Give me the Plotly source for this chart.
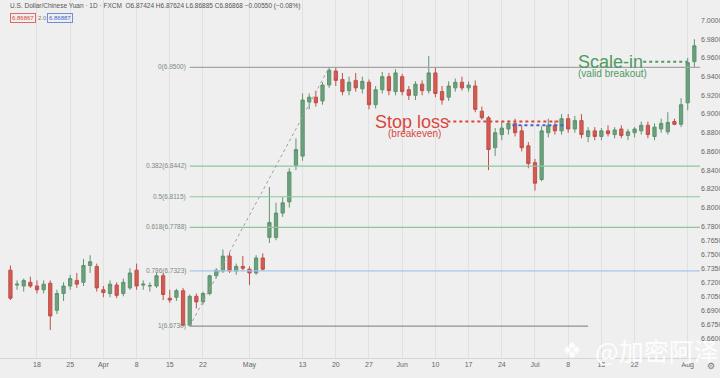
import plotly.graph_objects as go
import pandas as pd

# ---------------- data ----------------
dates = [d.strftime("%Y-%m-%d") for d in pd.bdate_range("2019-03-12", "2019-08-02")]

opens = [6.733, 6.717, 6.716, 6.720, 6.716, 6.712, 6.719, 6.690, 6.708, 6.716,
         6.722, 6.720, 6.738, 6.737, 6.712, 6.708, 6.717, 6.708, 6.714, 6.733,
         6.717, 6.716, 6.716, 6.727, 6.703, 6.704, 6.711, 6.674, 6.705, 6.699,
         6.708, 6.727, 6.732, 6.748, 6.732, 6.737, 6.734, 6.730, 6.746, 6.768,
         6.768, 6.794, 6.806, 6.845, 6.855, 6.913, 6.918, 6.914, 6.931, 6.946,
         6.937, 6.925, 6.936, 6.927, 6.934, 6.910, 6.926, 6.940, 6.924, 6.940,
         6.926, 6.920, 6.932, 6.925, 6.944, 6.924, 6.918, 6.928, 6.934, 6.928,
         6.930, 6.903, 6.896, 6.864, 6.878, 6.884, 6.890, 6.882, 6.866, 6.848,
         6.830, 6.880, 6.888, 6.882, 6.895, 6.884, 6.893, 6.876, 6.882, 6.876,
         6.882, 6.878, 6.884, 6.877, 6.880, 6.882, 6.888, 6.876, 6.884, 6.881,
         6.892, 6.889, 6.912, 6.956]
highs = [6.738, 6.722, 6.724, 6.726, 6.722, 6.722, 6.722, 6.712, 6.720, 6.728,
         6.730, 6.745, 6.749, 6.740, 6.716, 6.722, 6.720, 6.724, 6.735, 6.740,
         6.722, 6.720, 6.730, 6.730, 6.712, 6.713, 6.714, 6.707, 6.708, 6.710,
         6.728, 6.735, 6.755, 6.752, 6.740, 6.748, 6.737, 6.749, 6.751, 6.822,
         6.805, 6.811, 6.842, 6.874, 6.922, 6.922, 6.925, 6.934, 6.950, 6.950,
         6.944, 6.940, 6.944, 6.940, 6.937, 6.930, 6.945, 6.944, 6.948, 6.943,
         6.930, 6.935, 6.936, 6.962, 6.950, 6.930, 6.935, 6.938, 6.940, 6.935,
         6.936, 6.908, 6.898, 6.885, 6.892, 6.893, 6.895, 6.888, 6.870, 6.852,
         6.887, 6.895, 6.893, 6.900, 6.900, 6.898, 6.900, 6.886, 6.886, 6.885,
         6.888, 6.886, 6.888, 6.884, 6.886, 6.892, 6.892, 6.890, 6.895, 6.902,
         6.895, 6.917, 6.960, 6.980]
lows = [6.701, 6.712, 6.710, 6.714, 6.708, 6.708, 6.669, 6.686, 6.700, 6.712,
        6.714, 6.716, 6.730, 6.710, 6.704, 6.704, 6.703, 6.705, 6.712, 6.712,
        6.712, 6.710, 6.714, 6.701, 6.698, 6.700, 6.673, 6.673, 6.692, 6.696,
        6.706, 6.724, 6.730, 6.730, 6.728, 6.732, 6.717, 6.728, 6.732, 6.762,
        6.765, 6.790, 6.800, 6.840, 6.850, 6.905, 6.908, 6.910, 6.928, 6.930,
        6.920, 6.920, 6.924, 6.922, 6.905, 6.906, 6.922, 6.920, 6.920, 6.920,
        6.915, 6.915, 6.920, 6.922, 6.918, 6.910, 6.914, 6.924, 6.925, 6.924,
        6.902, 6.894, 6.840, 6.855, 6.872, 6.878, 6.876, 6.860, 6.842, 6.818,
        6.828, 6.875, 6.878, 6.878, 6.880, 6.880, 6.874, 6.870, 6.872, 6.872,
        6.876, 6.874, 6.874, 6.872, 6.875, 6.878, 6.874, 6.872, 6.880, 6.878,
        6.888, 6.886, 6.904, 6.950]
closes = [6.703, 6.718, 6.722, 6.716, 6.712, 6.718, 6.684, 6.708, 6.716, 6.724,
          6.718, 6.738, 6.742, 6.714, 6.709, 6.718, 6.706, 6.720, 6.730, 6.716,
          6.718, 6.7165, 6.727, 6.707, 6.701, 6.711, 6.674, 6.705, 6.699, 6.708,
          6.727, 6.733, 6.748, 6.732, 6.737, 6.735, 6.730, 6.746, 6.734, 6.784,
          6.794, 6.805, 6.838, 6.862, 6.915, 6.918, 6.912, 6.931, 6.947, 6.936,
          6.924, 6.934, 6.928, 6.935, 6.910, 6.926, 6.940, 6.925, 6.944, 6.924,
          6.920, 6.932, 6.925, 6.944, 6.922, 6.915, 6.930, 6.934, 6.928, 6.931,
          6.905, 6.896, 6.862, 6.880, 6.885, 6.890, 6.880, 6.864, 6.847, 6.826,
          6.882, 6.888, 6.882, 6.895, 6.884, 6.893, 6.878, 6.882, 6.876, 6.882,
          6.879, 6.883, 6.877, 6.881, 6.884, 6.888, 6.878, 6.886, 6.890, 6.891,
          6.889, 6.910, 6.955, 6.973]

tick_dates = ["2019-03-18", "2019-03-25", "2019-04-01", "2019-04-08", "2019-04-15",
              "2019-04-22", "2019-05-01", "2019-05-13", "2019-05-20", "2019-05-27",
              "2019-06-03", "2019-06-10", "2019-06-17", "2019-06-24", "2019-07-01",
              "2019-07-08", "2019-07-15", "2019-07-22", "2019-08-01"]
tick_text = ["18", "25", "Apr", "8", "15", "22", "May", "13", "20", "27",
             "Jun", "10", "17", "24", "Jul", "8", "15", "22", "Aug"]

price_ticks = [7.00, 6.98, 6.96, 6.94, 6.92, 6.90, 6.88, 6.86, 6.84, 6.82, 6.80,
               6.78, 6.765, 6.75, 6.735, 6.72, 6.705, 6.69, 6.675, 6.66]

swing_low = 6.673
swing_high = 6.950
fib_ratios = [0, 0.382, 0.5, 0.618, 0.786, 1]
fib_colors = ["#a4a4a4", "#8cc79b", "#8cc79b", "#8cc79b", "#a9c4ec", "#8f8f8f"]

stop_level = 6.892
entry_level = 6.888
scale_level = 6.956

# ---------------- figure ----------------
FONT = "Liberation Sans, Arial, sans-serif"
BG = "#efefef"
x_range = [-1.57, 103.85]
y_range = [6.639, 7.022]
idx = {d: i for i, d in enumerate(dates)}

fig = go.Figure()
fig.add_trace(go.Candlestick(
    x=dates, open=opens, high=highs, low=lows, close=closes,
    increasing=dict(line=dict(color="#5f9470", width=1), fillcolor="#6ba17b"),
    decreasing=dict(line=dict(color="#c0504a", width=1), fillcolor="#d45a52"),
    whiskerwidth=0, hoverinfo="skip", showlegend=False,
))

shapes = []
annotations = []

# fib retracement
fib_start = idx["2019-04-18"]
for r, col in zip(fib_ratios, fib_colors):
    lvl = swing_high - r * (swing_high - swing_low)
    x_end = idx["2019-07-11"] if r == 1 else x_range[1]
    shapes.append(dict(type="line", xref="x", yref="y", x0=fib_start, x1=x_end,
                       y0=lvl, y1=lvl, line=dict(color=col, width=1.2)))
    lab = f"{r:g}({lvl:.4f})"
    annotations.append(dict(x=fib_start, y=lvl, xref="x", yref="y", text=lab,
                            showarrow=False, xanchor="right", yanchor="middle",
                            xshift=-2, font=dict(size=6.5, color="#7d8a80", family=FONT)))

# dotted trend line of fib tool
shapes.append(dict(type="line", xref="x", yref="y", x0=fib_start, y0=swing_low,
                   x1=idx["2019-05-17"], y1=swing_high,
                   line=dict(color="#a0a0a0", width=1, dash="dot")))

# stop loss
shapes.append(dict(type="line", xref="x", yref="y", x0=65.8, x1=idx["2019-07-05"],
                   y0=stop_level, y1=stop_level,
                   line=dict(color="#d9463e", width=2, dash="dot")))
shapes.append(dict(type="line", xref="x", yref="y", x0=75.6, x1=idx["2019-07-08"] - 0.3,
                   y0=entry_level, y1=entry_level,
                   line=dict(color="#3f63d6", width=2, dash="dot")))
annotations.append(dict(x=54.6, y=stop_level, xref="x", yref="y", text="Stop loss",
                        showarrow=False, xanchor="left", yanchor="middle",
                        font=dict(size=18, color="#d9463e", family=FONT)))
annotations.append(dict(x=56.6, y=6.879, xref="x", yref="y", text="(breakeven)",
                        showarrow=False, xanchor="left", yanchor="middle",
                        font=dict(size=10, color="#d9463e", family=FONT)))

# scale-in
shapes.append(dict(type="line", xref="x", yref="y", x0=95.3, x1=idx["2019-08-01"],
                   y0=scale_level, y1=scale_level,
                   line=dict(color="#4f9a62", width=2, dash="dot")))
annotations.append(dict(x=85.2, y=scale_level, xref="x", yref="y", text="Scale-in",
                        showarrow=False, xanchor="left", yanchor="middle",
                        font=dict(size=18, color="#4f9a62", family=FONT)))
annotations.append(dict(x=85.2, y=6.943, xref="x", yref="y", text="(valid breakout)",
                        showarrow=False, xanchor="left", yanchor="middle",
                        font=dict(size=10, color="#4f9a62", family=FONT)))

# header
annotations.append(dict(x=0.011, y=0.982, xref="paper", yref="paper",
                        text="U.S. Dollar/Chinese Yuan · 1D · FXCM  O6.87424 H6.87624 L6.86885 C6.86868 −0.00550 (−0.08%)",
                        showarrow=False, xanchor="left", yanchor="middle",
                        font=dict(size=6.5, color="#555555", family=FONT)))
annotations.append(dict(x=0.014, y=0.95, xref="paper", yref="paper", text="6.86867",
                        showarrow=False, xanchor="left", yanchor="middle",
                        bordercolor="#e06b65", borderwidth=1, borderpad=1,
                        font=dict(size=6, color="#d9463e", family=FONT)))
annotations.append(dict(x=0.051, y=0.95, xref="paper", yref="paper", text="2.0",
                        showarrow=False, xanchor="left", yanchor="middle",
                        font=dict(size=6, color="#777777", family=FONT)))
annotations.append(dict(x=0.067, y=0.95, xref="paper", yref="paper", text="6.86887",
                        showarrow=False, xanchor="left", yanchor="middle",
                        bordercolor="#6d8fe0", borderwidth=1, borderpad=1,
                        font=dict(size=6, color="#3f63d6", family=FONT)))

# watermark and gear (positions given in pixels, converted below)
annotations.append(dict(x=593, y=350, xref="paper", yref="paper", text="@加密阿泽",
                        showarrow=False, xanchor="left", yanchor="middle",
                        font=dict(size=25, color="rgba(255,255,255,0.92)",
                                  family="Noto Sans CJK SC")))
annotations.append(dict(x=572, y=350, xref="paper", yref="paper", text="❖",
                        showarrow=False, xanchor="center", yanchor="middle",
                        font=dict(size=22, color="rgba(255,255,255,0.92)", family="DejaVu Sans")))
annotations.append(dict(x=711, y=366, xref="paper", yref="paper", text="⚙",
                        showarrow=False, xanchor="center", yanchor="middle",
                        font=dict(size=9, color="#777777", family="DejaVu Sans")))

PLOT_W, PLOT_H = 700.0, 358.0
for a in annotations[-3:]:
    a["x"] = a["x"] / PLOT_W
    a["y"] = (PLOT_H - a["y"]) / PLOT_H

fig.update_layout(
    width=720, height=378,
    margin=dict(l=0, r=20, t=0, b=20, autoexpand=False),
    paper_bgcolor=BG, plot_bgcolor=BG,
    font=dict(family=FONT, color="#666666"),
    shapes=shapes, annotations=annotations,
    showlegend=False,
    xaxis=dict(type="category", range=x_range, rangeslider=dict(visible=False),
               tickmode="array", tickvals=tick_dates, ticktext=tick_text,
               showgrid=True, gridcolor="#e1e1e1", gridwidth=1, automargin=False,
               tickfont=dict(size=7, color="#666666"), ticks="",
               showline=True, linecolor="#d6d6d6", zeroline=False),
    yaxis=dict(range=y_range, side="right", tickmode="array", tickvals=price_ticks,
               tickformat=".5f", showgrid=False, zeroline=False, automargin=False,
               tickfont=dict(size=7, color="#666666"), ticks=""),
)

fig.write_html("out.html",
               config={"displayModeBar": False},
               post_script="document.body.style.margin='0';"
                           "document.body.style.background='" + BG + "';")
